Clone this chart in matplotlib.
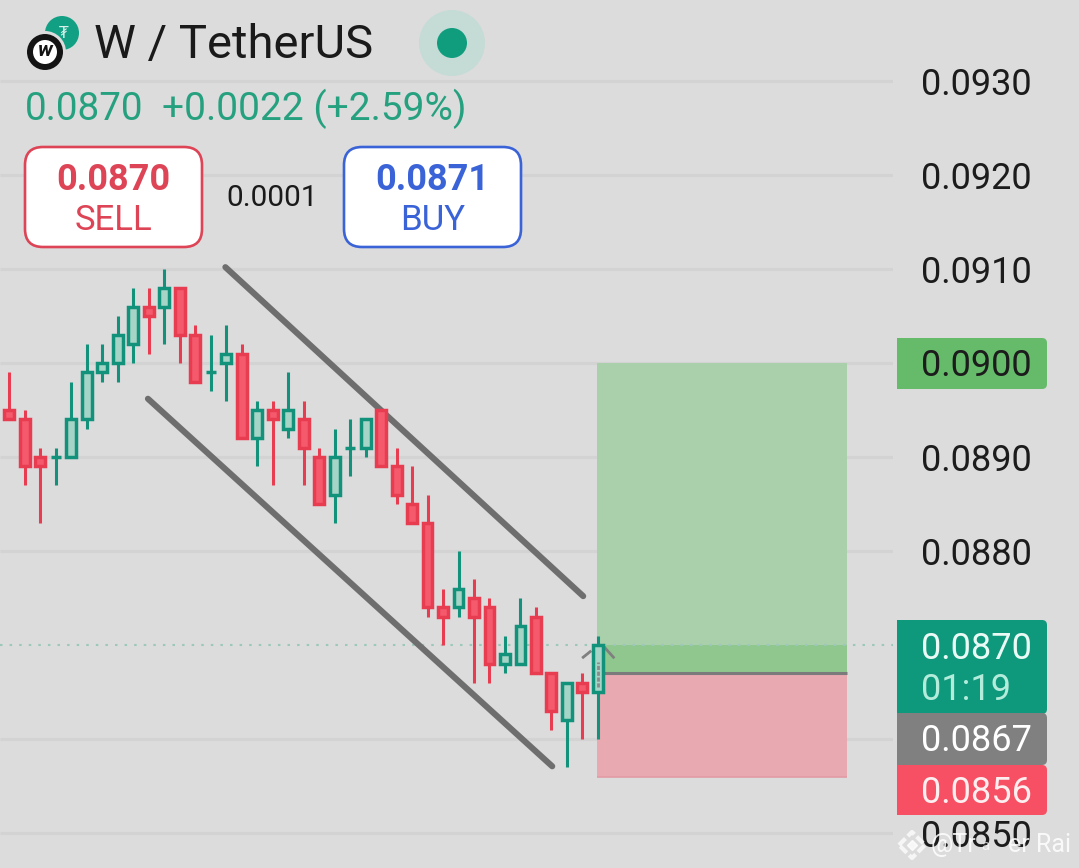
import matplotlib
matplotlib.use("Agg")
import numpy as np
import matplotlib.pyplot as plt
from matplotlib.patches import Circle, FancyBboxPatch, Rectangle

plt.rcParams["font.family"] = ["Roboto", "DejaVu Sans"]

# candles, oldest first
opens = [0.0895, 0.0894, 0.0890, 0.0890, 0.0890, 0.0894, 0.0899, 0.0900, 0.0902, 0.0906,
         0.0906, 0.0908, 0.0903, 0.0899, 0.0900, 0.0901, 0.0892, 0.0895, 0.0893, 0.0894,
         0.0890, 0.0886, 0.0891, 0.0891, 0.0895, 0.0889, 0.0885, 0.0883, 0.0874, 0.0874,
         0.0875, 0.0874, 0.0868, 0.0868, 0.0873, 0.0867, 0.0862, 0.0866, 0.0865]
highs = [0.0899, 0.0895, 0.0891, 0.0891, 0.0898, 0.0902, 0.0902, 0.0905, 0.0908, 0.0908,
         0.0910, 0.0908, 0.0904, 0.0903, 0.0904, 0.0902, 0.0896, 0.0896, 0.0899, 0.0896,
         0.0891, 0.0893, 0.0894, 0.0894, 0.0895, 0.0891, 0.0889, 0.0886, 0.0876, 0.0880,
         0.0877, 0.0875, 0.0871, 0.0875, 0.0874, 0.0867, 0.0866, 0.0867, 0.0871]
lows = [0.0894, 0.0887, 0.0883, 0.0887, 0.0890, 0.0893, 0.0898, 0.0898, 0.0900, 0.0901,
        0.0902, 0.0900, 0.0898, 0.0897, 0.0896, 0.0892, 0.0889, 0.0887, 0.0892, 0.0887,
        0.0885, 0.0883, 0.0888, 0.0890, 0.0889, 0.0885, 0.0883, 0.0873, 0.0870, 0.0873,
        0.0866, 0.0866, 0.0867, 0.0868, 0.0867, 0.0861, 0.0857, 0.0860, 0.0860]
closes = [0.0894, 0.0889, 0.0889, 0.0890, 0.0894, 0.0899, 0.0900, 0.0903, 0.0906, 0.0905,
          0.0908, 0.0903, 0.0898, 0.0899, 0.0901, 0.0892, 0.0895, 0.0894, 0.0895, 0.0891,
          0.0885, 0.0890, 0.0891, 0.0894, 0.0889, 0.0886, 0.0883, 0.0874, 0.0873, 0.0876,
          0.0873, 0.0868, 0.0869, 0.0872, 0.0867, 0.0863, 0.0866, 0.0865, 0.0870]

channel_upper_x = [13.95, 37.05]
channel_upper_y = [0.09102, 0.08752]
channel_lower_x = [8.95, 35.05]
channel_lower_y = [0.08962, 0.08571]

grid_prices = [0.0930, 0.0920, 0.0910, 0.0900, 0.0890, 0.0880, 0.0860, 0.0850]
tick_prices = [0.0930, 0.0920, 0.0910, 0.0890, 0.0880, 0.0850]
tick_labels = ["0.0930", "0.0920", "0.0910", "0.0890", "0.0880", "0.0850"]

last_price = 0.0870
entry_price = 0.0867
target_price = 0.0900
stop_price = 0.0856
box_x = [37.96, 54.1]

BG = "#dcdcdc"
GREEN = "#12917b"
GREEN_FILL = "#a6d5c8"
RED = "#e83c50"
RED_FILL = "#f45a6c"

fig = plt.figure(figsize=(10.79, 8.68), dpi=100, facecolor=BG)

ax = fig.add_axes([0, 0, 893 / 1079, 1])
ax.set_facecolor(BG)
ax.set_xlim(-0.6, 57.05)
# nudged so the tick labels sit where the screenshot has them
ax.set_ylim(0.084628, 0.093862)
for s in ax.spines.values():
    s.set_visible(False)
ax.set_xticks([])
ax.yaxis.tick_right()
ax.set_yticks(tick_prices)
ax.set_yticklabels(tick_labels, fontsize=26, color="#1c1c1c")
ax.tick_params(axis="y", length=0, pad=20)

ax.hlines(grid_prices, -0.6, 57.05, color="#d3d3d3", lw=2.2, zorder=1)

# position box
ax.fill_between(box_x, entry_price, target_price, color="#aacfab", lw=0, zorder=2)
ax.fill_between(box_x, entry_price, last_price, color="#90c78f", lw=0, zorder=2.1)
ax.fill_between(box_x, stop_price, entry_price, color="#e8a9b0", lw=0, zorder=2)
ax.hlines(entry_price, box_x[0], box_x[1], color="#7b7b7b", lw=2.2, zorder=2.2)
ax.hlines(stop_price, box_x[0], box_x[1], color="#e39ba4", lw=1.2, zorder=2.2)
ax.hlines(last_price, -0.6, 57.05, color="#9cc8bb", lw=1.5, ls=(0, (1.2, 3.4)), zorder=2.3)

# channel
ax.plot(channel_upper_x, channel_upper_y, color="#6e6e6e", lw=4.4, solid_capstyle="round", zorder=5)
ax.plot(channel_lower_x, channel_lower_y, color="#6e6e6e", lw=4.4, solid_capstyle="round", zorder=5)

# chevron behind the last candle
ax.plot([37.05, 37.5], [0.08687, 0.08693], color="#808080", lw=2, zorder=3)
ax.plot([38.4, 39.0], [0.08698, 0.08687], color="#808080", lw=2, zorder=3)

x = np.arange(len(opens))
o = np.array(opens)
c = np.array(closes)
h = np.array(highs)
l = np.array(lows)
up = c >= o
# doji candles count as green in the picture
up[[3, 13, 22]] = True
top = np.maximum(o, c)
bot = np.minimum(o, c)

for mask, edge, fill in [(up, GREEN, GREEN_FILL), (~up, RED, RED_FILL)]:
    ax.vlines(x[mask], bot[mask], l[mask], color=edge, lw=2.2, zorder=6)
    ax.vlines(x[mask], top[mask], h[mask], color=edge, lw=2.2, zorder=6)
    ax.bar(x[mask], (top - bot)[mask], bottom=bot[mask], width=0.64, color=fill,
           edgecolor=edge, linewidth=2.5, zorder=7)
ax.vlines(38, 0.08655, 0.08682, color="#8a8a8a", lw=2, ls=(0, (1.5, 0.6)), zorder=8)

# app overlay, laid out in screen pixels
ui = fig.add_axes([0, 0, 1, 1])
ui.set_xlim(0, 1079)
ui.set_ylim(868, 0)
ui.axis("off")


def badge(x0, y0, x1, y1, color):
    ui.add_patch(FancyBboxPatch((x0 + 5, y0 + 5), x1 - x0 - 10, y1 - y0 - 10,
                                boxstyle="round,pad=5,rounding_size=5", fc=color, ec="none"))
    ui.add_patch(Rectangle((x0, y0), 12, y1 - y0, fc=color, ec="none"))


badge(897, 338, 1047, 389, "#66bb6a")
badge(897, 620, 1047, 714, "#0f997c")
badge(897, 713, 1047, 765, "#808080")
badge(897, 765, 1047, 815, "#f74f63")
ui.text(921, 366, "0.0900", fontsize=26, color="#1c1c1c", va="center")
ui.text(921, 649, "0.0870", fontsize=26, color="#eafbf6", va="center")
ui.text(921, 690, "01:19", fontsize=26, color="#b4ecdc", va="center")
ui.text(921, 741, "0.0867", fontsize=26, color="white", va="center")
ui.text(921, 793, "0.0856", fontsize=26, color="#fdeef0", va="center")

# header
ui.add_patch(Circle((62, 33), 17, fc="#12a085", ec="none"))
ui.text(64, 33, "₮", fontsize=11, color="#d8f2ea", ha="center", va="center", family="DejaVu Sans")
ui.add_patch(Circle((45, 52), 21, fc=BG, ec="none"))
ui.add_patch(Circle((45, 52), 18, fc="#141414", ec="none"))
ui.add_patch(Circle((45, 52), 12, fc="white", ec="none"))
ui.text(45, 51, "w", fontsize=15, color="#141414", ha="center", va="center", weight="bold", style="italic")
ui.text(94, 45, "W / TetherUS", fontsize=34, color="#1a1a1a", va="center")
ui.add_patch(Circle((452, 43), 33, fc="#c5dbd6", ec="none"))
ui.add_patch(Circle((452, 43), 15, fc="#0f9d7e", ec="none"))
ui.text(25, 109, "0.0870", fontsize=27.8, color="#26a17f", va="center")
ui.text(162, 109, "+0.0022 (+2.59%)", fontsize=28, color="#26a17f", va="center")

for x0, color, price, side in [(25, "#dd4455", "0.0870", "SELL"), (344, "#3b63d8", "0.0871", "BUY")]:
    ui.add_patch(FancyBboxPatch((x0 + 18, 165), 141, 64, boxstyle="round,pad=18,rounding_size=18",
                                fc="white", ec=color, lw=1.9))
    ui.text(x0 + 88.5, 180, price, fontsize=26, color=color, weight="bold", ha="center", va="center")
    ui.text(x0 + 88.5, 221, side, fontsize=25, color=color, ha="center", va="center")
ui.text(272, 198, "0.0001", fontsize=21.5, color="#1a1a1a", ha="center", va="center")

# watermark
ui.plot([912], [845], marker="D", ms=5, color="white", alpha=0.8, ls="none")
ui.plot([899, 912, 925, 912, 899], [845, 832, 845, 858, 845], color="white", lw=3, alpha=0.75, ls=(0, (2.2, 0.8)))
ui.text(931, 845, "@Tr", fontsize=18, color="white", alpha=0.85, va="center")
ui.text(985, 846, "a", fontsize=11, color="white", alpha=0.7, va="center", ha="center")
ui.text(1008, 845, "er Rai", fontsize=18, color="white", alpha=0.85, va="center")

fig.savefig("out.png", dpi=100, facecolor=BG)
